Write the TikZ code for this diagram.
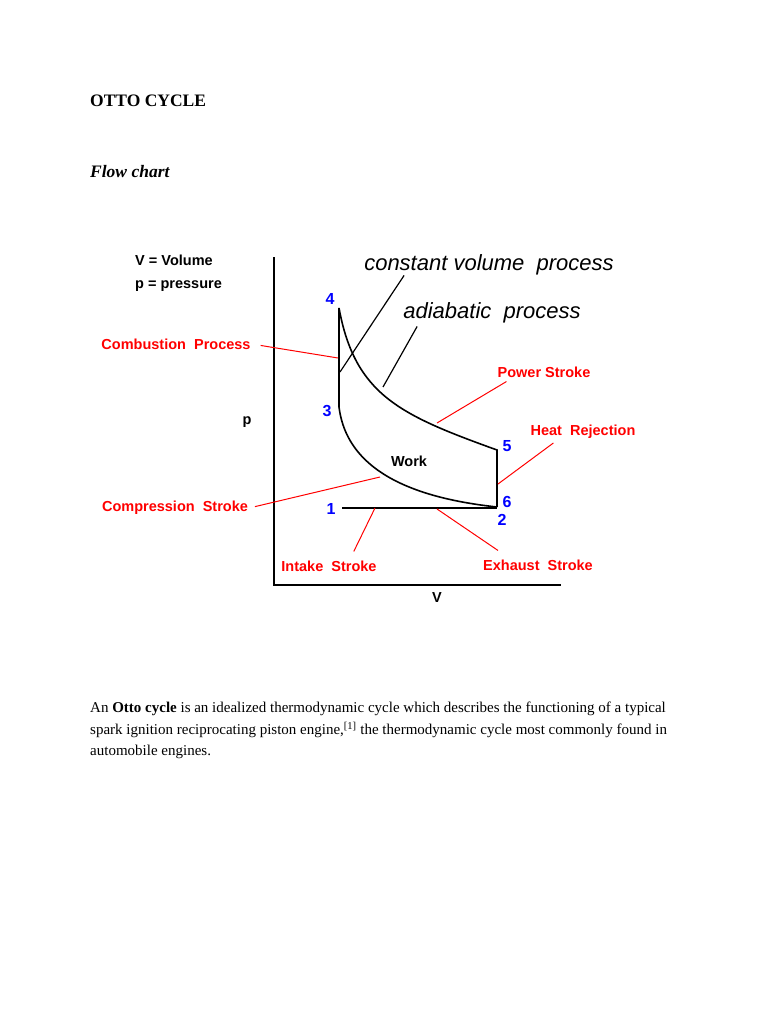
\documentclass[tikz,border=0pt]{standalone}
\usepackage{fontspec}
\setmainfont{Liberation Serif}
\newfontfamily\arialfont{Liberation Sans}

\begin{document}
\begin{tikzpicture}[x=1pt,y=-1pt,
    lbl/.style={font=\arialfont\bfseries\fontsize{14.5}{17}\selectfont, inner sep=1pt},
    redlbl/.style={lbl, text=red},
    numlbl/.style={lbl, text=blue, font=\arialfont\bfseries\fontsize{16}{18}\selectfont},
    proclbl/.style={font=\arialfont\itshape\fontsize{22}{26}\selectfont, inner sep=1pt},
    redline/.style={red, line width=1pt},
    blkline/.style={black, line width=1.2pt},
    curveline/.style={black, line width=1.6pt},
    axis/.style={black, line width=2.8pt}]
    \useasboundingbox (0,0) rectangle (768,1024);

    % heading
    \node[anchor=base west, inner sep=0, font=\bfseries\fontsize{17.5}{21}\selectfont] (title) at (90,107) {OTTO CYCLE};
    \node[anchor=base west, inner sep=0, font=\bfseries\itshape\fontsize{17.5}{21}\selectfont] (subtitle) at (90,178) {Flow chart};

    % legend
    \node[lbl, anchor=base west] (legV) at (134,265) {V = Volume};
    \node[lbl, anchor=base west] (legp) at (134,288) {p = pressure};

    % axes
    \coordinate (ytop) at (274,257);
    \coordinate (origin) at (274,585);
    \coordinate (xend) at (561,585);
    \draw[axis] (ytop) -- (origin) -- (xend);
    \node[lbl] (plab) at (247,422) {p};
    \node[lbl] (vlab) at (437,598) {V};

    % cycle points
    \coordinate (p4) at (339,308);
    \coordinate (p3) at (339,407);
    \coordinate (p5) at (497,450);
    \coordinate (p6) at (497,507);
    \coordinate (p1) at (342,508);
    \coordinate (p2) at (497,508);
    \draw[curveline] (p3) -- (p4) .. controls (355,395) and (400,415) .. (p5) -- (p6);
    \draw[curveline] (p3) .. controls (345,455) and (385,495) .. (p6);
    \draw[curveline] (p1) -- (p2);

    \node[numlbl] (n4) at (330,299) {4};
    \node[numlbl] (n3) at (327,411) {3};
    \node[numlbl] (n5) at (507,446) {5};
    \node[numlbl] (n6) at (507,502) {6};
    \node[numlbl] (n2) at (502,520) {2};
    \node[numlbl] (n1) at (331,509) {1};
    \node[lbl] (work) at (409,461) {Work};

    % process labels
    \node[proclbl] (cvp) at (489,265) {constant volume\ \ process};
    \node[proclbl] (adp) at (492,313) {adiabatic\ \ process};
    \coordinate (cvtip) at (340,372);
    \coordinate (adtip) at (383,387);
    \draw[blkline] ([xshift=41pt,yshift=1pt]cvp.south west) -- (cvtip);
    \draw[blkline] ([xshift=15pt,yshift=-2pt]adp.south west) -- (adtip);

    % strokes
    \node[redlbl] (comb) at (176,344) {Combustion\ \ Process};
    \node[redlbl] (comp) at (175,508) {Compression\ \ Stroke};
    \node[redlbl] (pow) at (544,372) {Power Stroke};
    \node[redlbl] (heat) at (583,432) {Heat\ \ Rejection};
    \node[redlbl] (intake) at (329,566) {Intake\ \ Stroke};
    \node[redlbl] (exh) at (538,565) {Exhaust\ \ Stroke};
    \coordinate (combtip) at (338,358);
    \coordinate (comptip) at (380,477);
    \coordinate (powtip) at (437,423);
    \coordinate (heattip) at (498,484);
    \coordinate (intaketip) at (375,508);
    \coordinate (exhtip) at (437,509);
    \draw[redline, shorten <=9pt] (comb.east) -- (combtip);
    \draw[redline, shorten <=6pt] (comp.east) -- (comptip);
    \draw[redline] ([xshift=10pt,yshift=-3pt]pow.south west) -- (powtip);
    \draw[redline] ([xshift=24pt,yshift=-3pt]heat.south west) -- (heattip);
    \draw[redline] ([xshift=-24pt,yshift=8pt]intake.north east) -- (intaketip);
    \draw[redline] ([xshift=16pt,yshift=8pt]exh.north west) -- (exhtip);

    % text below
    \node[anchor=north west, align=left, inner sep=0, font=\fontsize{15}{21.5}\selectfont] (intro) at (90,702)
      {An \textbf{Otto cycle} is an idealized thermodynamic cycle which describes the functioning of a typical\\
       spark ignition reciprocating piston engine,\textsuperscript{[1]} the thermodynamic cycle most commonly found in\\
       automobile engines.};
\end{tikzpicture}
\end{document}
